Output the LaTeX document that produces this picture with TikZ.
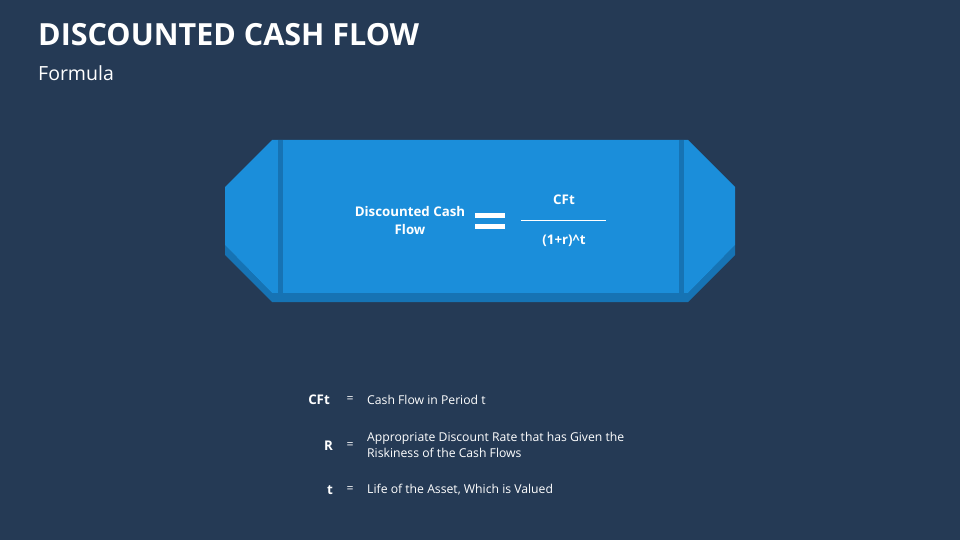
\documentclass[tikz,border=0pt]{standalone}
\usepackage{fontspec}
\setmainfont{Open Sans}
\begin{document}
\begin{tikzpicture}[x=1pt,y=-1pt,
  txt/.style={text=white,font=\fontsize{12.2}{16}\selectfont,inner sep=0},
  btxt/.style={text=white,font=\bfseries\fontsize{13.3}{18}\selectfont,inner sep=0}]
\definecolor{bg}{HTML}{253A55}
\definecolor{blu}{HTML}{1B8EDA}
\definecolor{dblu}{HTML}{1673B4}
\fill[bg] (0,0) rectangle (960,540);
\useasboundingbox (0,0) rectangle (960,540);
\fill[dblu] (225,245) -- (225,255) -- (272,302) -- (688,302) -- (735,255) -- (735,245) -- (688,293) -- (272,293) -- cycle;
\fill[blu] (225,187) -- (272,140) -- (688,140) -- (735,187) -- (735,245) -- (688,293) -- (272,293) -- (225,245) -- cycle;
\fill[dblu] (272,293) rectangle (688,302);
\fill[dblu] (278,140) rectangle (283,302);
\fill[dblu] (679,140) rectangle (684,302);
\node[anchor=west,text=white,font=\bfseries\fontsize{30.5}{36}\selectfont,inner sep=0] (title) at (38,35) {DISCOUNTED CASH FLOW};
\node[anchor=west,text=white,font=\fontsize{19.5}{24}\selectfont,inner sep=0] (sub) at (38,73) {Formula};
\node[btxt,align=center] (lhs) at (410,221) {Discounted Cash\\Flow};
\fill[white] (475,213) rectangle (505,218);
\fill[white] (475,224) rectangle (505,229);
\node[btxt] (num) at (564,200) {CFt};
\draw[white,line width=1] (521,220) -- (606,220);
\node[btxt] (den) at (564,241) {(1+r)\^{}t};
\node[btxt,anchor=east] (k1) at (330,400) {CFt};
\node[txt] (e1) at (350,400) {=};
\node[txt,anchor=west] (d1) at (367,400) {Cash Flow in Period t};
\node[btxt,anchor=east] (k2) at (333,446) {R};
\node[txt] (e2) at (350,446) {=};
\node[txt,anchor=west,align=left] (d2) at (367,445) {Appropriate Discount Rate that has Given the\\Riskiness of the Cash Flows};
\node[btxt,anchor=east] (k3) at (333,490) {t};
\node[txt] (e3) at (350,490) {=};
\node[txt,anchor=west] (d3) at (367,490) {Life of the Asset, Which is Valued};
\end{tikzpicture}
\end{document}
